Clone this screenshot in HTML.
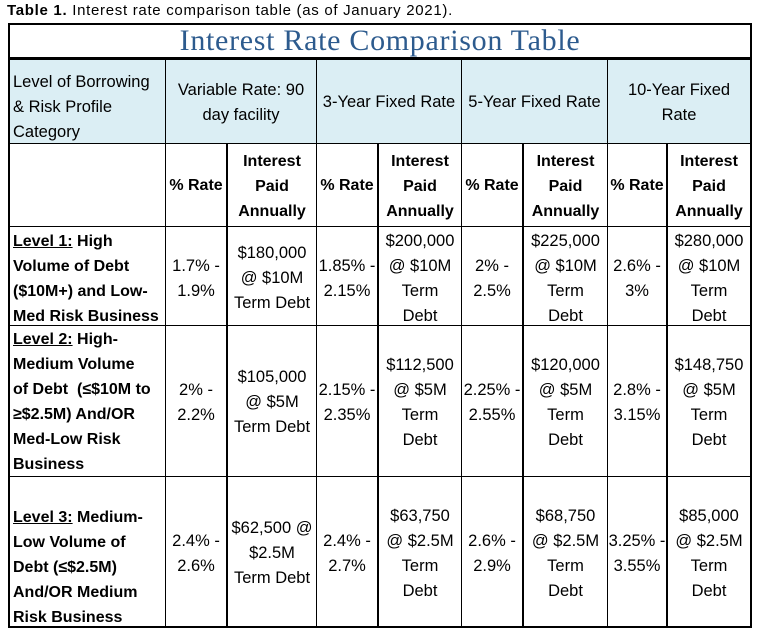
<!DOCTYPE html>
<html>
<head>
<meta charset="utf-8">
<style>
  html, body { margin:0; padding:0; }
  body { width:766px; height:644px; background:#fff; position:relative; overflow:hidden;
         font-family:"Liberation Sans", "DejaVu Sans", sans-serif; color:#000; }
  .ln { position:absolute; background:#000; }
  .t { position:absolute; white-space:nowrap; line-height:25px; font-size:16.5px; text-align:center; }
  .b { font-weight:bold; font-size:16px; }
  .l { text-align:left; }
  .u { text-decoration:underline; }
</style>
</head>
<body>

<!-- caption -->
<div style="position:absolute;left:7px;top:1px;font-size:15px;line-height:20px;letter-spacing:0.7px;white-space:nowrap;"><b>Table 1.</b> Interest rate comparison table (as of January 2021).</div>

<!-- header background -->
<div style="position:absolute;left:10px;top:60px;width:740px;height:83px;background:#DBEEF4;"></div>

<!-- title -->
<div style="position:absolute;left:10px;top:24px;width:740px;height:33px;line-height:34px;text-align:center;font-family:'Liberation Serif','DejaVu Serif',serif;font-size:30px;letter-spacing:0.7px;color:#2D5B8E;white-space:nowrap;">Interest Rate Comparison Table</div>

<!-- outer borders -->
<div class="ln" style="left:8px;top:23px;width:744px;height:2px;"></div>
<div class="ln" style="left:8px;top:23px;width:2px;height:605px;"></div>
<div class="ln" style="left:750px;top:23px;width:2px;height:605px;"></div>
<div class="ln" style="left:8px;top:626px;width:744px;height:2px;"></div>
<div class="ln" style="left:8px;top:57px;width:744px;height:3px;"></div>

<!-- horizontal row lines -->
<div class="ln" style="left:8px;top:143px;width:744px;height:1px;"></div>
<div class="ln" style="left:8px;top:226px;width:744px;height:1px;"></div>
<div class="ln" style="left:8px;top:325px;width:744px;height:1px;"></div>
<div class="ln" style="left:8px;top:476px;width:744px;height:1px;"></div>

<!-- main vertical lines -->
<div class="ln" style="left:165px;top:60px;width:1px;height:567px;"></div>
<div class="ln" style="left:316px;top:60px;width:1px;height:567px;"></div>
<div class="ln" style="left:461px;top:60px;width:1px;height:567px;"></div>
<div class="ln" style="left:607px;top:60px;width:1px;height:567px;"></div>

<!-- sub vertical lines (thick) -->
<div class="ln" style="left:226px;top:143px;width:2px;height:484px;"></div>
<div class="ln" style="left:377px;top:143px;width:2px;height:484px;"></div>
<div class="ln" style="left:522px;top:143px;width:2px;height:484px;"></div>
<div class="ln" style="left:666px;top:143px;width:2px;height:484px;"></div>

<!-- header row -->
<div class="t l" style="left:13px;top:69.5px;">Level of Borrowing<br>&amp; Risk Profile<br>Category</div>
<div class="t" style="left:166px;width:150px;top:77.5px;">Variable Rate: 90<br>day facility</div>
<div class="t" style="left:317px;width:144px;top:89.5px;">3-Year Fixed Rate</div>
<div class="t" style="left:462px;width:145px;top:89.5px;">5-Year Fixed Rate</div>
<div class="t" style="left:608px;width:142px;top:77.5px;">10-Year Fixed<br>Rate</div>

<!-- subheader row -->
<div class="t b" style="left:166px;width:60px;top:172.5px;">% Rate</div>
<div class="t b" style="left:228px;width:88px;top:148.5px;">Interest<br>Paid<br>Annually</div>
<div class="t b" style="left:317px;width:60px;top:172.5px;">% Rate</div>
<div class="t b" style="left:379px;width:82px;top:148.5px;">Interest<br>Paid<br>Annually</div>
<div class="t b" style="left:462px;width:60px;top:172.5px;">% Rate</div>
<div class="t b" style="left:524px;width:83px;top:148.5px;">Interest<br>Paid<br>Annually</div>
<div class="t b" style="left:608px;width:58px;top:172.5px;">% Rate</div>
<div class="t b" style="left:668px;width:82px;top:148.5px;">Interest<br>Paid<br>Annually</div>

<!-- Level 1 -->
<div class="t b l" style="left:13px;top:228.5px;"><span class="u">Level 1:</span> High<br>Volume of Debt<br>($10M+) and Low-<br>Med Risk Business</div>
<div class="t" style="left:166px;width:60px;top:253.5px;">1.7% -<br>1.9%</div>
<div class="t" style="left:228px;width:88px;top:240.5px;">$180,000<br>@ $10M<br>Term Debt</div>
<div class="t" style="left:317px;width:60px;top:253.5px;">1.85% -<br>2.15%</div>
<div class="t" style="left:379px;width:82px;top:228.5px;">$200,000<br>@ $10M<br>Term<br>Debt</div>
<div class="t" style="left:462px;width:60px;top:253.5px;">2% -<br>2.5%</div>
<div class="t" style="left:524px;width:83px;top:228.5px;">$225,000<br>@ $10M<br>Term<br>Debt</div>
<div class="t" style="left:608px;width:58px;top:253.5px;">2.6% -<br>3%</div>
<div class="t" style="left:668px;width:82px;top:228.5px;">$280,000<br>@ $10M<br>Term<br>Debt</div>

<!-- Level 2 -->
<div class="t b l" style="left:13px;top:326.5px;"><span class="u">Level 2:</span> High-<br>Medium Volume<br>of Debt&nbsp; (≤$10M to<br>≥$2.5M) And/OR<br>Med-Low Risk<br>Business</div>
<div class="t" style="left:166px;width:60px;top:377.5px;">2% -<br>2.2%</div>
<div class="t" style="left:228px;width:88px;top:364.5px;">$105,000<br>@ $5M<br>Term Debt</div>
<div class="t" style="left:317px;width:60px;top:377.5px;">2.15% -<br>2.35%</div>
<div class="t" style="left:379px;width:82px;top:352.5px;">$112,500<br>@ $5M<br>Term<br>Debt</div>
<div class="t" style="left:462px;width:60px;top:377.5px;">2.25% -<br>2.55%</div>
<div class="t" style="left:524px;width:83px;top:352.5px;">$120,000<br>@ $5M<br>Term<br>Debt</div>
<div class="t" style="left:608px;width:58px;top:377.5px;">2.8% -<br>3.15%</div>
<div class="t" style="left:668px;width:82px;top:352.5px;">$148,750<br>@ $5M<br>Term<br>Debt</div>

<!-- Level 3 -->
<div class="t b l" style="left:13px;top:504.5px;"><span class="u">Level 3:</span> Medium-<br>Low Volume of<br>Debt (≤$2.5M)<br>And/OR Medium<br>Risk Business</div>
<div class="t" style="left:166px;width:60px;top:528.5px;">2.4% -<br>2.6%</div>
<div class="t" style="left:228px;width:88px;top:515.5px;">$62,500 @<br>$2.5M<br>Term Debt</div>
<div class="t" style="left:317px;width:60px;top:528.5px;">2.4% -<br>2.7%</div>
<div class="t" style="left:379px;width:82px;top:503.5px;">$63,750<br>@ $2.5M<br>Term<br>Debt</div>
<div class="t" style="left:462px;width:60px;top:528.5px;">2.6% -<br>2.9%</div>
<div class="t" style="left:524px;width:83px;top:503.5px;">$68,750<br>@ $2.5M<br>Term<br>Debt</div>
<div class="t" style="left:608px;width:58px;top:528.5px;">3.25% -<br>3.55%</div>
<div class="t" style="left:668px;width:82px;top:503.5px;">$85,000<br>@ $2.5M<br>Term<br>Debt</div>

</body>
</html>
